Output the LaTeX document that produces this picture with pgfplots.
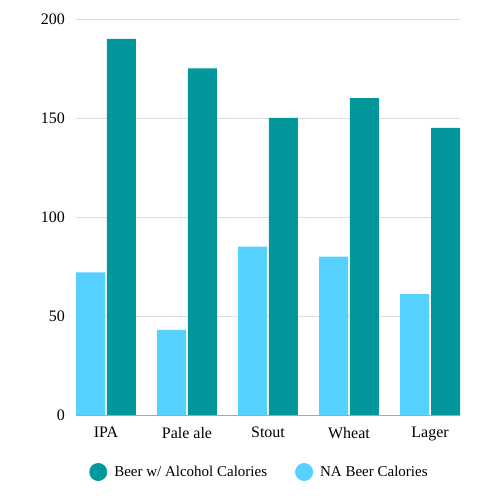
\documentclass[border=0pt]{standalone}
\usepackage{pgfplots}
\pgfplotsset{compat=1.18}
\usepackage{fontspec}
\setmainfont{Liberation Serif}
\definecolor{alcteal}{HTML}{02979B}
\definecolor{nablue}{HTML}{55D0FF}
\begin{document}
\begin{tikzpicture}
\path (0,0) rectangle (500pt,500pt);
\begin{axis}[
  at={(76pt,85pt)}, anchor=south west,
  scale only axis, width=384pt, height=396pt,
  xmin=-0.37, xmax=4.37, ymin=0, ymax=200,
  xtick={0,...,4}, xticklabels={IPA,Pale ale,Stout,Wheat,Lager},
  ytick={50,100,150,200},
  extra y ticks={0},
  extra y tick style={grid style={color=black!35, line width=0.8pt}},
  ymajorgrids, grid style={color=black!13, line width=0.6pt},
  axis line style={draw=none}, major tick length=0pt,
  tick label style={font=\rmfamily\fontsize{16}{19}\selectfont},
  /pgf/number format/assume math mode=true,
  yticklabel style={anchor=east, inner sep=0pt, xshift=-11pt},
  xticklabel style={anchor=north, inner sep=0pt, yshift=-12pt},
  legend image code/.code={\fill[#1] (9pt,0pt) circle (9pt);},
  legend style={at={(0.034,-0.144)}, anchor=west, draw=none, fill=none,
    inner sep=0pt, legend columns=2,
    font=\rmfamily\fontsize{15}{18}\selectfont,
    /tikz/every odd column/.append style={column sep=5pt},
    /tikz/every even column/.append style={column sep=26pt}},
]
\addplot[ybar, bar width=0.358, bar shift=0.191, fill=alcteal, draw=none]
  coordinates {(0,190) (1,175) (2,150) (3,160) (4,145)};
\addlegendentry{Beer w/ Alcohol Calories}
\addplot[ybar, bar width=0.358, bar shift=-0.191, fill=nablue, draw=none]
  coordinates {(0,72) (1,43) (2,85) (3,80) (4,61)};
\addlegendentry{NA Beer Calories}
\end{axis}
\end{tikzpicture}
\end{document}
